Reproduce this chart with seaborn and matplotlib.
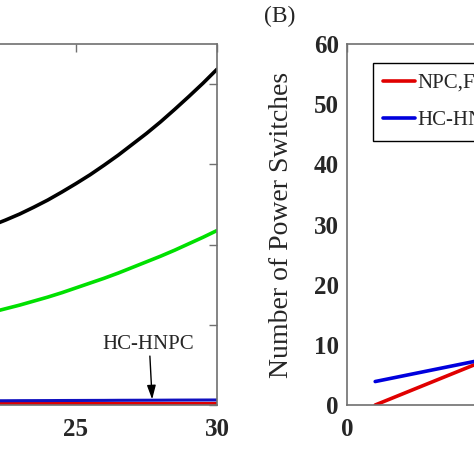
import matplotlib
matplotlib.use('Agg')
import matplotlib.pyplot as plt
import seaborn as sns

# (A) left panel, only the right part is visible in the crop
levels_a = [22, 22.5, 23, 23.5, 24, 24.5, 25, 25.5, 26, 26.5, 27, 27.5, 28, 28.5, 29, 29.5, 30]
black_a = [447, 461, 476, 493, 511, 531, 552, 574, 598, 623, 650, 677, 706, 737, 769, 802, 837]
green_a = [231, 240, 249, 259, 269, 280, 292, 304, 316, 329, 343, 357, 371, 386, 402, 418, 435]
red_a = [6] * len(levels_a)
blue_a = [10.5, 10.6, 10.8, 10.9, 11.0, 11.2, 11.3, 11.4, 11.5, 11.7, 11.8, 11.9, 12.0, 12.2, 12.3, 12.4, 12.5]

# (B) number of power switches
levels_b = [1, 2, 3, 4, 5]
npc_b = [0, 1.9, 3.8, 5.7, 7.6]
hc_b = [3.9, 4.85, 5.8, 6.75, 7.7]

xticks = [0, 5, 10, 15, 20, 25, 30]
yticks_a = [0, 200, 400, 600, 800]
yticks_b = [0, 10, 20, 30, 40, 50, 60]

sns.set_theme(style='white')
plt.rcParams['font.family'] = ['Liberation Serif', 'DejaVu Serif']

W = 474.0
fig = plt.figure(figsize=(4.74, 4.74), dpi=100)
bottom = (W - 405) / W
height = (405 - 44) / W
width = 846 / W
ax1 = fig.add_axes([(217 - 846) / W, bottom, width, height])
ax2 = fig.add_axes([347 / W, bottom, width, height])

lw = 2.6
sns.lineplot(x=levels_a, y=black_a, ax=ax1, color='black', lw=lw)
sns.lineplot(x=levels_a, y=green_a, ax=ax1, color='#00e000', lw=lw)
sns.lineplot(x=levels_a, y=red_a, ax=ax1, color='#e00000', lw=2.2)
sns.lineplot(x=levels_a, y=blue_a, ax=ax1, color='#1010c0', lw=2.2)
ax1.set_xlim(0, 30)
ax1.set_ylim(0, 900)
ax1.set_xticks(xticks)
ax1.set_yticks(yticks_a)

ax1.text(27.55, 151, 'HC-HNPC', ha='center', va='center', fontsize=15)
ax1.annotate('', xy=(27.7, 14), xytext=(27.62, 122),
             arrowprops=dict(arrowstyle='-|>,head_length=0.7,head_width=0.22',
                             lw=1, color='black', shrinkA=0, shrinkB=0))

sns.lineplot(x=levels_b, y=npc_b, ax=ax2, color='#e00000', lw=lw, label='NPC,FC,CHB')
sns.lineplot(x=levels_b, y=hc_b, ax=ax2, color='#0000dd', lw=lw, label='HC-HNPC')
ax2.set_xlim(0, 30)
ax2.set_ylim(0, 60)
ax2.set_xticks(xticks)
ax2.set_yticks(yticks_b)
ax2.set_ylabel('Number of Power Switches', fontsize=20)
ax2.yaxis.set_label_coords(-0.063, 0.5)
ax2.set_xlabel('')

leg = ax2.legend(loc='upper left', bbox_to_anchor=(26 / 846, (405 - 63) / 361), borderaxespad=0,
                 fontsize=15, handlelength=1.5, handletextpad=0.15, labelspacing=0.85,
                 borderpad=0.5, fancybox=False, framealpha=1)
leg.get_frame().set_edgecolor('black')
leg.get_frame().set_linewidth(1)

for ax in (ax1, ax2):
    for s in ax.spines.values():
        s.set_color('#707070')
        s.set_linewidth(1.2)
    ax.tick_params(direction='in', length=6, width=1, color='#707070',
                   top=True, right=True, labelsize=18)
    ax.tick_params(axis='x', pad=9)
    ax.tick_params(axis='y', pad=6)
    for lab in ax.get_xticklabels() + ax.get_yticklabels():
        lab.set_fontweight('bold')

fig.text(280 / W, 1 - 16 / W, '(B)', ha='center', va='center', fontsize=17)

fig.savefig('out.png', dpi=100)
